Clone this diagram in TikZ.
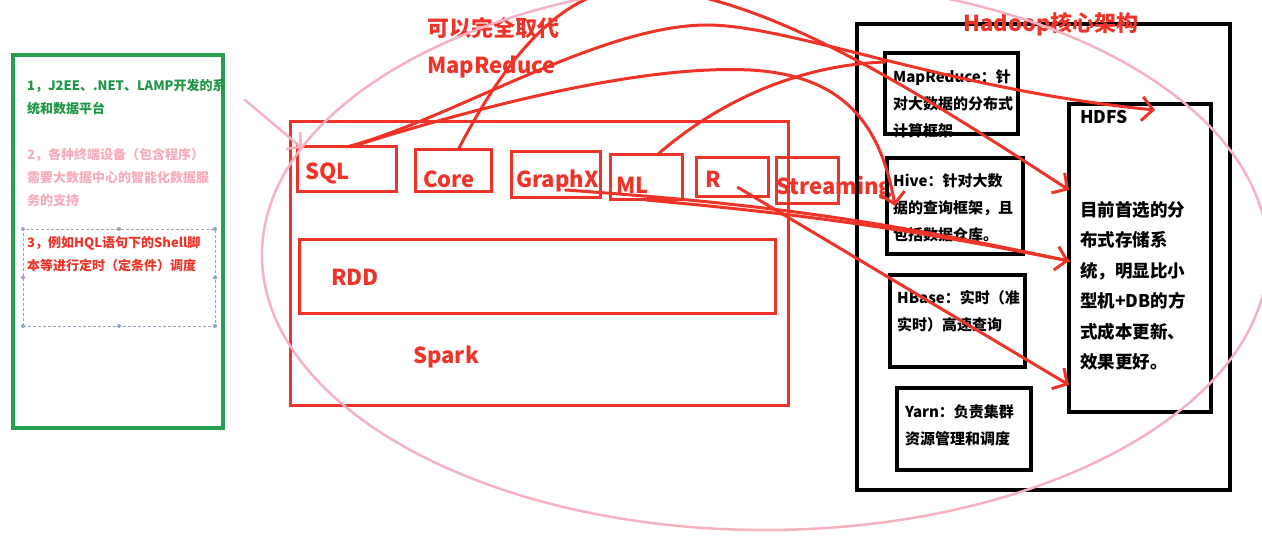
\documentclass[tikz,border=0pt]{standalone}
\usepackage{fontspec}
\setmainfont{Noto Sans CJK SC}
\usetikzlibrary{arrows.meta}

\definecolor{sred}{RGB}{238,52,40}
\definecolor{sgreen}{RGB}{38,160,80}
\definecolor{tgreen}{RGB}{30,150,70}
\definecolor{spink}{RGB}{246,178,192}
\definecolor{tpink}{RGB}{246,172,186}
\definecolor{selgray}{RGB}{150,165,190}

\tikzset{
  box/.style={draw,inner sep=0pt,outer sep=0pt},
  rbox/.style={box,sred,line width=3pt},
  kbox/.style={box,black,line width=3.5pt},
  lbl/.style={sred,inner sep=0pt,anchor=west,font=\bfseries\fontsize{22}{26}\selectfont},
  note/.style={inner sep=0pt,anchor=north west,align=left,font=\bfseries\fontsize{13}{23}\selectfont},
  htxt/.style={inner sep=0pt,anchor=north west,align=left,font=\bfseries\fontsize{15}{27}\selectfont},
  link/.style={sred,line width=3pt,line cap=round},
  head/.style={link,-{Straight Barb[length=11pt,width=24pt]}},
  pinkhead/.style={spink,line width=2.5pt,line cap=round,-{Straight Barb[length=10pt,width=22pt]}},
}

\begin{document}
\begin{tikzpicture}[x=1pt,y=-1pt]
        \useasboundingbox (0,0) rectangle (1262,537) ;
        \clip (0,0) rectangle (1262,537) ;
        %\draw[very thin,gray,step=50] (0,0) grid (1262,537) ;

        % left notes
        \node[box,sgreen,line width=3.5pt,minimum width=210pt,minimum height=373pt] (green) at (118,241.5) {} ;
        \node[note,tgreen] (note1) at (27,79.5) {1，J2EE、.NET、LAMP开发的系\\统和数据平台} ;
        \node[note,tpink] (note2) at (27,148.5) {2，各种终端设备（包含程序）\\需要大数据中心的智能化数据服\\务的支持} ;
        \node[note,sred] (note3) at (27,236.5) {3，例如HQL语句下的Shell脚\\本等进行定时（定条件）调度} ;
        \node[box,selgray,densely dashed,line width=0.8pt,minimum width=192pt,minimum height=97pt] (sel) at (119,277.5) {} ;
        \foreach \a in {north west,north,north east,east,south east,south,south west,west}
          \fill[selgray] (sel.\a) circle (2pt) ;

        % Spark
        \node[rbox,minimum width=498pt,minimum height=284pt] (spark) at (539,264) {} ;
        \node[rbox,minimum width=99pt,minimum height=45pt] (sql) at (346.5,169.5) {} ;
        \node[rbox,minimum width=76pt,minimum height=42pt] (core) at (453,171) {} ;
        \node[rbox,minimum width=89pt,minimum height=46pt] (graphx) at (555.5,175) {} ;
        \node[rbox,minimum width=72pt,minimum height=45pt] (ml) at (646,177.5) {} ;
        \node[rbox,minimum width=72pt,minimum height=39pt] (r) at (732,177.5) {} ;
        \node[rbox,minimum width=62pt,minimum height=46pt] (streaming) at (807,181) {} ;
        \node[rbox,minimum width=476pt,minimum height=74pt] (rdd) at (537,277) {} ;
        \node[lbl] (sqllbl) at (305,173) {SQL} ;
        \node[lbl] (corelbl) at (423,179) {Core} ;
        \node[lbl] (graphxlbl) at (516,181) {GraphX} ;
        \node[lbl] (mllbl) at (616,185) {ML} ;
        \node[lbl] (rlbl) at (705,179) {R} ;
        \node[lbl] (streaminglbl) at (776,188) {Streaming} ;
        \node[lbl] (rddlbl) at (331,277) {RDD} ;
        \node[lbl] (sparklbl) at (413,357) {Spark} ;
        \node[lbl] (replace) at (427,28) {可以完全取代} ;
        \node[lbl] (replacemr) at (427,67) {MapReduce} ;

        % Hadoop
        \node[kbox,minimum width=373pt,minimum height=466pt] (hadoop) at (1043.5,257) {} ;
        \node[lbl] (hadooplbl) at (963,24) {Hadoop核心架构} ;
        \node[kbox,minimum width=133pt,minimum height=81pt] (mr) at (951.5,93.5) {} ;
        \node[kbox,minimum width=136pt,minimum height=96pt] (hive) at (955,206) {} ;
        \node[kbox,minimum width=135pt,minimum height=92pt] (hbase) at (957.5,321) {} ;
        \node[kbox,minimum width=134pt,minimum height=82pt] (yarn) at (964,429) {} ;
        \node[kbox,minimum width=142pt,minimum height=308pt] (hdfs) at (1140,258) {} ;
        \node[htxt] (mrtxt) at (893,69.5) {MapReduce：针\\对大数据的分布式\\计算框架} ;
        \node[htxt] (hivetxt) at (893,173.5) {Hive：针对大数\\据的查询框架，且\\包括数据仓库。} ;
        \node[htxt] (hbasetxt) at (897,290.5) {HBase：实时（准\\实时）高速查询} ;
        \node[htxt] (yarntxt) at (905,404.5) {Yarn：负责集群\\资源管理和调度} ;
        \node[inner sep=0pt,anchor=west,font=\bfseries\fontsize{17.5}{30.5}\selectfont] (hdfslbl) at (1080,117) {HDFS} ;
        \node[inner sep=0pt,anchor=north west,align=left,font=\bfseries\fontsize{17.5}{30.5}\selectfont] (hdfstxt) at (1080,201) {目前首选的分\\布式存储系\\统，明显比小\\型机+DB的方\\式成本更新、\\效果更好。} ;

        % hand drawn links
        \draw[head] (sql.north) .. controls (450,120) and (600,25) .. (707,25)
          .. controls (790,25) and (950,90) .. ([shift={(15,6)}]hdfs.north) ;
        \draw[head] ([xshift=5pt]core.north) .. controls (510,50) and (570,-20) .. (650,-12)
          .. controls (770,0) and (900,80) .. ([yshift=-86pt]hdfs.north west) ;
        \draw[link] ([xshift=11pt]ml.north) .. controls (720,100) and (800,65) .. ([yshift=-9pt]mr.north west) ;
        \draw[head] ([xshift=4pt]sql.north) .. controls (500,100) and (650,65) .. (750,70)
          .. controls (840,75) and (880,120) .. ([xshift=8pt]hive.west) ;
        \draw[head] ([shift={(10,15)}]graphx.center) to[bend left=4] ([yshift=-3pt]hdfs.west) ;
        \draw[link] (ml.south) to[bend left=3] ([yshift=-3pt]hdfs.west) ;
        \draw[head] ([shift={(6,10)}]r.center) -- ([yshift=27pt]hdfs.south west) ;
        \draw[pinkhead] ([shift={(22,45)}]green.north east) -- ([shift={(5,1)}]sql.north west) ;

        % pink circle round Spark and Hadoop
        \draw[spink,line width=2.5pt] (765,255) ellipse [x radius=503pt,y radius=275pt] ;
      \end{tikzpicture}
\end{document}
